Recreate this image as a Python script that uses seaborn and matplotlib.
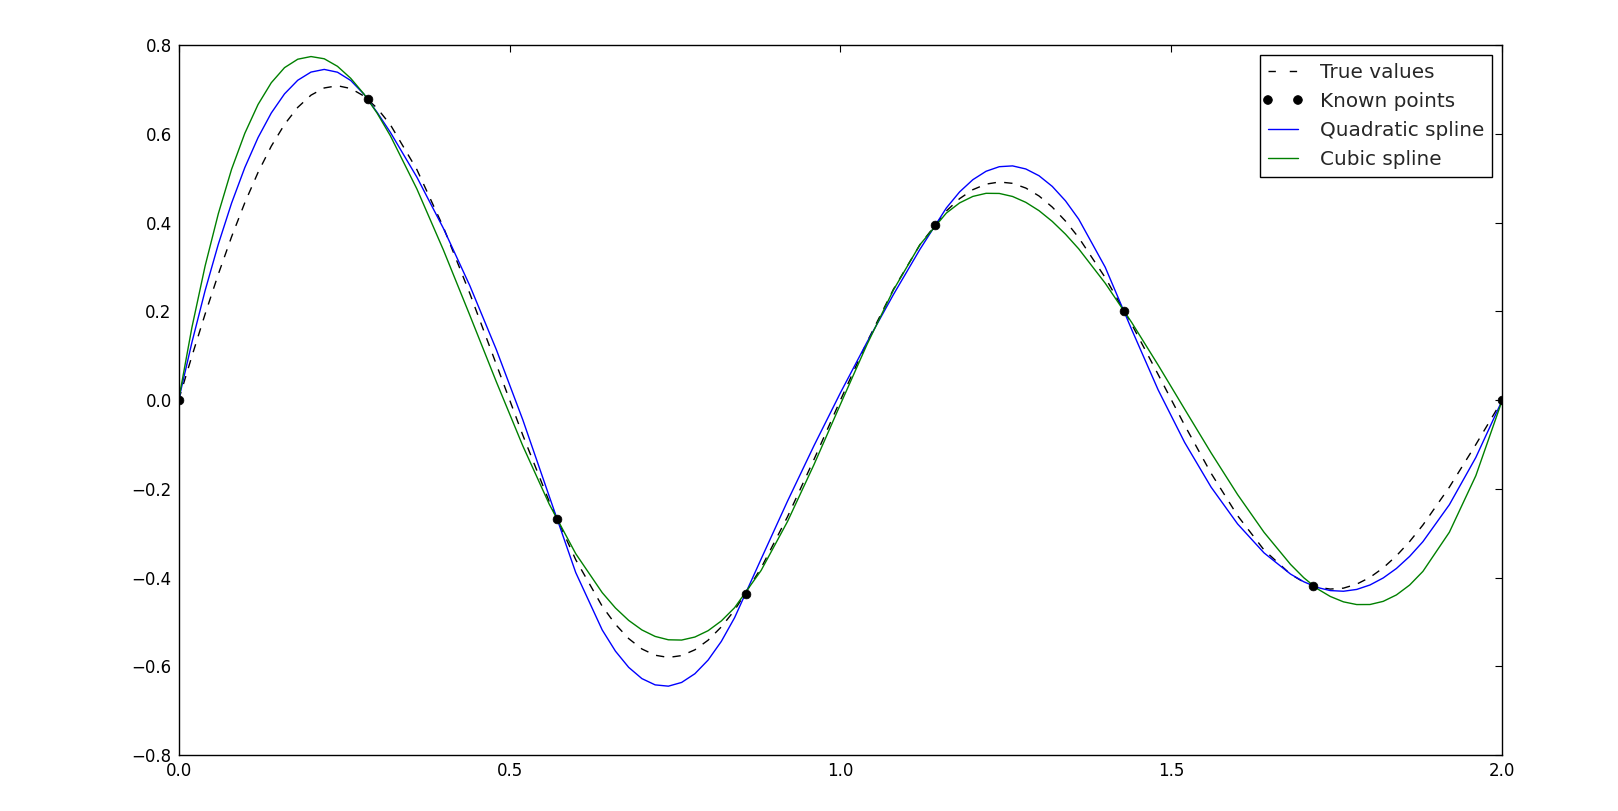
import numpy as np
import pandas as pd
import seaborn as sns
import matplotlib
matplotlib.use("Agg")
import matplotlib.pyplot as plt
from matplotlib.collections import PathCollection
from matplotlib.legend_handler import HandlerPathCollection

# sample positions of the curves (denser around the turning points)
x_grid = [0.00, 0.02, 0.04, 0.06, 0.08, 0.10, 0.12, 0.14, 0.16, 0.18, 0.20, 0.22, 0.24, 0.26, 0.28, 0.30, 0.32,
          0.36, 0.40, 0.44, 0.48, 0.52, 0.56, 0.60, 0.64,
          0.66, 0.68, 0.70, 0.72, 0.74, 0.76, 0.78, 0.80, 0.82,
          0.84, 0.88, 0.92, 0.96, 1.00, 1.04, 1.08, 1.12, 1.16,
          1.18, 1.20, 1.22, 1.24, 1.26, 1.28, 1.30, 1.32, 1.34,
          1.36, 1.40, 1.44, 1.48, 1.52, 1.56, 1.60, 1.64, 1.68,
          1.70, 1.72, 1.74, 1.76, 1.78, 1.80, 1.82, 1.84, 1.86,
          1.88, 1.92, 1.96, 2.00]

true_vals = [0.0, 0.0985, 0.1936, 0.2837, 0.3679, 0.4446, 0.5129, 0.5720, 0.6211, 0.6595, 0.6870, 0.7032, 0.7082, 0.7020, 0.6850, 0.6575, 0.6202,
             0.5192, 0.3896, 0.2400, 0.0804, -0.0791, -0.2289, -0.3599, -0.4647,
             -0.5054, -0.5376, -0.5610, -0.5751, -0.5801, -0.5759, -0.5629, -0.5412, -0.5112,
             -0.4737, -0.3787, -0.2630, -0.1339, 0.0, 0.1304, 0.2494, 0.3498, 0.4261,
             0.4538, 0.4740, 0.4865, 0.4913, 0.4883, 0.4777, 0.4598, 0.4348, 0.4033,
             0.3659, 0.2759, 0.1708, 0.0575, -0.0568, -0.1651, -0.2606, -0.3379, -0.3925,
             -0.4104, -0.4216, -0.4260, -0.4239, -0.4149, -0.3997, -0.3783, -0.3511, -0.3188,
             -0.2817, -0.1963, -0.1003, 0.0]

quad_vals = [0.0, 0.1294, 0.2465, 0.3513, 0.4437, 0.5238, 0.5914, 0.6468, 0.6899, 0.7206, 0.7390, 0.7450, 0.7387, 0.7201, 0.6892, 0.6480, 0.6030,
             0.5022, 0.3870, 0.2576, 0.1137, -0.0445, -0.2171, -0.3888, -0.5181,
             -0.5659, -0.6024, -0.6278, -0.6419, -0.6448, -0.6364, -0.6168, -0.5860, -0.5439,
             -0.4906, -0.3586, -0.2278, -0.1028, 0.0165, 0.1300, 0.2376, 0.3394, 0.4328,
             0.4690, 0.4965, 0.5155, 0.5258, 0.5276, 0.5207, 0.5054, 0.4814, 0.4488,
             0.4075, 0.2993, 0.1589, 0.0228, -0.0955, -0.1963, -0.2792, -0.3445, -0.3922,
             -0.4095, -0.4222, -0.4294, -0.4309, -0.4268, -0.4168, -0.4010, -0.3796, -0.3523,
             -0.3192, -0.2359, -0.1294, 0.0]

cubic_vals = [0.0, 0.163, 0.302, 0.420, 0.520, 0.601, 0.666, 0.715, 0.749, 0.768, 0.774, 0.769, 0.752, 0.725, 0.6896, 0.6462, 0.5953,
              0.4756, 0.3383, 0.1909, 0.0412, -0.1032, -0.2348, -0.3463, -0.4340,
              -0.4686, -0.4966, -0.5181, -0.5327, -0.5403, -0.5409, -0.5341, -0.5198, -0.4978,
              -0.4680, -0.3843, -0.2737, -0.1455, -0.0094, 0.1249, 0.2479, 0.3499, 0.4214,
              0.4442, 0.4588, 0.4658, 0.4655, 0.4587, 0.4455, 0.4267, 0.4025, 0.3737,
              0.3406, 0.2633, 0.1748, 0.0788, -0.0205, -0.1191, -0.2130, -0.2981, -0.3704,
              -0.4004, -0.4249, -0.4426, -0.4548, -0.4609, -0.4608, -0.4537, -0.4392, -0.4169,
              -0.3862, -0.2979, -0.1705, 0.0]

known_x = [0.0, 0.2857, 0.5714, 0.8571, 1.1429, 1.4286, 1.7143, 2.0]
known_y = [0.0, 0.678, -0.269, -0.436, 0.395, 0.201, -0.419, 0.0]

# style: old matplotlib look
sns.set_style("white")
plt.rcParams['font.family'] = ['DejaVu Sans']
plt.rcParams['font.size'] = 12
plt.rcParams['axes.linewidth'] = 1.0

fig = plt.figure(figsize=(16.18, 8.11), dpi=100)
ax = fig.add_axes([0.1104, 0.0690, 0.8181, 0.8755])

sns.lineplot(x=x_grid, y=true_vals, ax=ax, color='k', linewidth=1.0,
             linestyle=(0, (6, 6)), estimator=None, sort=False, label='True values')
sns.scatterplot(x=known_x, y=known_y, ax=ax, color='k', s=40, edgecolor='k',
                linewidth=0.5, zorder=3, label='Known points')
sns.lineplot(x=x_grid, y=quad_vals, ax=ax, color='b', linewidth=1.0,
             estimator=None, sort=False, label='Quadratic spline')
sns.lineplot(x=x_grid, y=cubic_vals, ax=ax, color='g', linewidth=1.0,
             estimator=None, sort=False, label='Cubic spline')

ax.set_xlim(0, 2)
ax.set_ylim(-0.8, 0.8)
ax.set_xticks([0.0, 0.5, 1.0, 1.5, 2.0])
ax.set_yticks([-0.8, -0.6, -0.4, -0.2, 0.0, 0.2, 0.4, 0.6, 0.8])
ax.tick_params(direction='in', length=5, width=0.8, top=True, right=True,
               labelsize=12, pad=5, colors='k')
for sp in ax.spines.values():
    sp.set_visible(True)
    sp.set_color('k')
    sp.set_linewidth(1.0)

leg = ax.legend(loc='upper right', fontsize=14.4, scatterpoints=2, numpoints=1,
                scatteryoffsets=[0.5, 0.5], handlelength=1.5, handletextpad=1.1,
                fancybox=False, framealpha=1, edgecolor='k', borderaxespad=0.5,
                handler_map={PathCollection: HandlerPathCollection(marker_pad=0)})
leg.get_frame().set_linewidth(1.0)
# two short dashes in the legend sample, as in the old style
leg.legend_handles[0].set_linestyle((0, (5.3, 10)))

fig.savefig('out.png', dpi=100, facecolor='white')
